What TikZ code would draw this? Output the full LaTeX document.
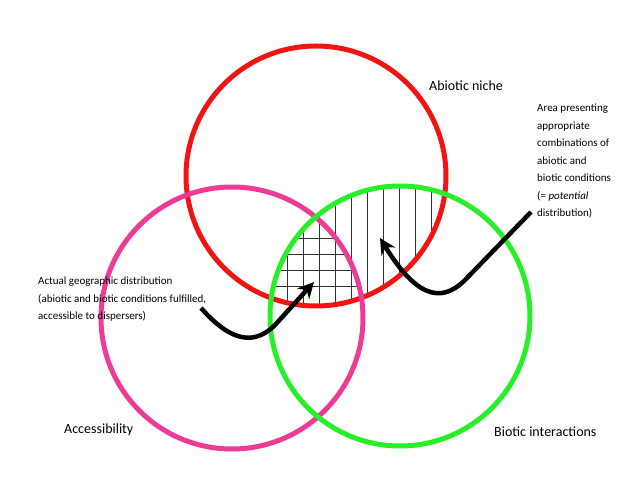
\documentclass[tikz,border=0pt]{standalone}
\usepackage{fontspec}
\setmainfont{Carlito}
\usetikzlibrary{arrows.meta}
\definecolor{nred}{RGB}{240,20,20}
\definecolor{npink}{RGB}{238,60,150}
\definecolor{ngreen}{RGB}{40,240,40}
\begin{document}
\begin{tikzpicture}[x=1pt,y=-1pt,
  ring/.style={line width=5pt},
  hatch/.style={line width=0.6pt,black!80},
  bigarrow/.style={line width=4.5pt,-{Stealth[length=16pt,width=16pt]}},
  lbl/.style={font=\fontsize{14}{16}\selectfont,inner sep=0pt},
  small/.style={font=\fontsize{11}{17.5}\selectfont,align=left,inner sep=0pt}]
\useasboundingbox (0,0) rectangle (638,478);
\coordinate (R) at (316,176);
\coordinate (P) at (232,318);
\coordinate (G) at (400,316);
% vertical hatching in red ∩ green
\begin{scope}
\clip (R) circle (130);
\clip (G) circle (130);
\foreach \x in {287,303,319,335,351,367,383,399,415,431,447}
  \draw[hatch] (\x,150) -- (\x,320);
\end{scope}
% horizontal hatching in triple intersection
\begin{scope}
\clip (R) circle (130);
\clip (G) circle (130);
\clip (P) circle (131);
\foreach \y in {238,254,270,286}
  \draw[hatch] (260,\y) -- (370,\y);
\end{scope}
\draw[ring,nred] (R) circle (130);
\draw[ring,npink] (P) circle (131);
\draw[ring,ngreen] (G) circle (130);
\node[lbl,anchor=west] (an) at (429,86) {Abiotic niche};
\node[lbl,anchor=west] (ac) at (64,430) {Accessibility};
\node[lbl,anchor=west] (bi) at (494,432) {Biotic interactions};
\node[small,anchor=north west] (rt) at (537,104) {Area presenting\\appropriate\\combinations of\\abiotic and\\biotic conditions\\(= \textit{potential}\\distribution)};
\node[small,anchor=north west] (lt) at (38,277) {Actual geographic distribution\\(abiotic and biotic conditions fulfilled,\\accessible to dispersers)};
\coordinate (a1s) at (201,308);
\coordinate (a1e) at (314,282);
\coordinate (a2s) at (531,212);
\coordinate (a2e) at (380,238);
\draw[bigarrow] (a1s) .. controls (225,335) and (250,350) .. (275,325) -- (a1e);
\draw[bigarrow] (a2s) -- (465,280) .. controls (440,305) and (415,295) .. (a2e);
\end{tikzpicture}
\end{document}
